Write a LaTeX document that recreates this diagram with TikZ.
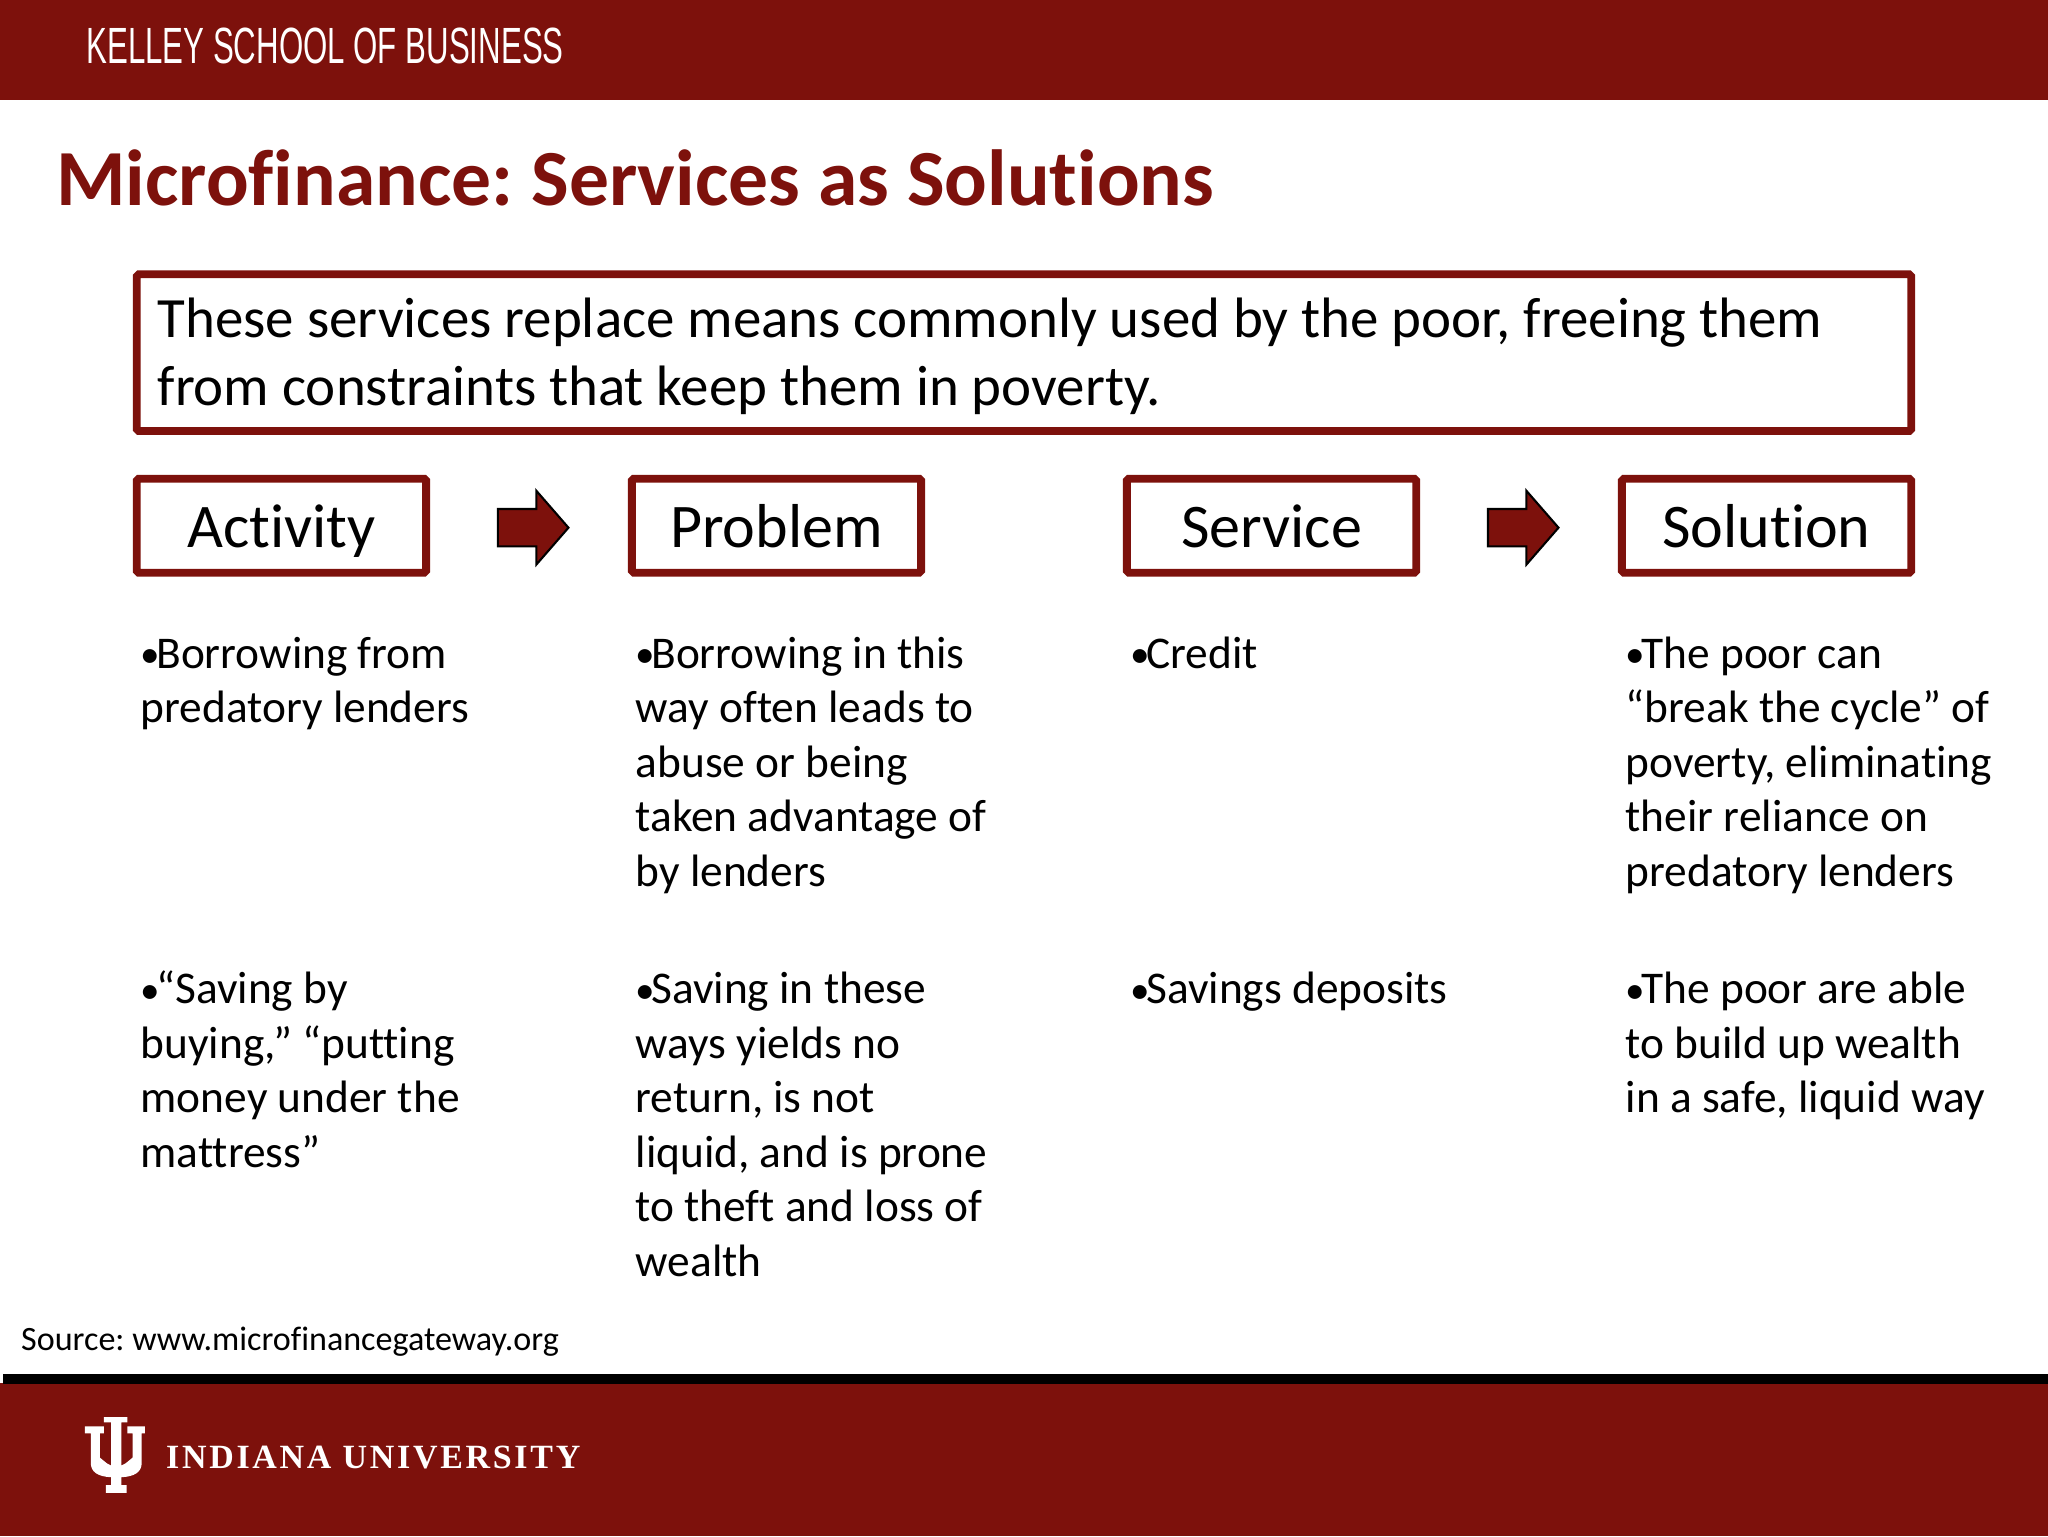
\documentclass[tikz,border=0pt]{standalone}
\usepackage{fontspec}
\setmainfont{Carlito}[Ligatures={NoCommon}]
\newfontfamily\hdrfont{Liberation Sans}
\newfontfamily\iufont[LetterSpace=8]{Liberation Serif}
\usetikzlibrary{shapes.arrows}
\definecolor{crimson}{HTML}{7D110C}
\newcommand{\lead}{\rule{0pt}{30pt}\makebox[12pt][l]{\raisebox{0.6pt}{\fontsize{30}{34}\selectfont •}}}
\frenchspacing
\tikzset{
  x=1pt,y=-1pt,
  bodytext/.style={anchor=north west,inner sep=0pt,align=left,font=\fontsize{34.75}{41.7}\selectfont\frenchspacing,text=black},
  headbox/.style={draw=crimson,line width=6pt,rounded corners=1.5pt,fill=white,minimum width=221.5pt,minimum height=72pt,inner sep=0pt,text height=38pt,text depth=5pt,font=\fontsize{47.5}{52}\selectfont},
  blockarrow/.style={shape=single arrow,draw=black,fill=crimson,line width=1.6pt,inner sep=0pt,minimum height=54pt,single arrow head extend=14pt,single arrow tip angle=98,single arrow head indent=0pt,outer sep=0pt}
}
\begin{document}
\begin{tikzpicture}
\useasboundingbox (0,0) rectangle (1568,1176);
\fill[white] (0,0) rectangle (1568,1176);
\fill[crimson] (0,0) rectangle (1568,76.5);
\fill[crimson] (0,1059) rectangle (1568,1176);
\fill[black] (2,1052) rectangle (1568,1059.5);
\node[anchor=base west,inner sep=0pt,text=white] (school) at (66,48.5) {\scalebox{0.613}[1]{\hdrfont\fontsize{39}{44}\selectfont KELLEY SCHOOL OF BUSINESS}};
\node[anchor=base west,inner sep=0pt,text=crimson,font=\fontsize{60.9}{64}\selectfont\bfseries\frenchspacing] (title) at (43,157) {Microfinance: Services as Solutions};
\node[draw=crimson,line width=6pt,rounded corners=1.5pt,minimum width=1358.5pt,minimum height=120pt,inner sep=0pt] (intro) at (784,270) {};
\node[bodytext,font=\fontsize{43.6}{52}\selectfont\frenchspacing] (introtext) at (120.5,227) {\rule{0pt}{31pt}These services replace means commonly used by the poor, freeing them\\from constraints that keep them in poverty.};
\node[headbox] (activity) at (215.5,402.5) {Activity};
\node[headbox] (problem) at (594.5,402.5) {Problem};
\node[headbox] (service) at (973.5,402.5) {Service};
\node[headbox] (solution) at (1352.5,402.5) {Solution};
\node[blockarrow] (arrowa) at (402,404) {\rule{0pt}{27pt}};
\node[blockarrow] (arrowb) at (1160,404) {\rule{0pt}{27pt}};
\node[bodytext] (a1) at (107.5,481.4) {\lead Borrowing from\\predatory lenders};
\node[bodytext] (p1) at (486.5,481.4) {\lead Borrowing in this\\way often leads to\\abuse or being\\taken advantage of\\by lenders};
\node[bodytext] (s1) at (865.5,481.4) {\lead Credit};
\node[bodytext] (v1) at (1244.5,481.4) {\lead The poor can\\“break the cycle” of\\poverty, eliminating\\their reliance on\\predatory lenders};
\node[bodytext] (a2) at (107.5,738.4) {\lead “Saving by\\buying,” “putting\\money under the\\mattress”};
\node[bodytext] (p2) at (486.5,738.4) {\lead Saving in these\\ways yields no\\return, is not\\liquid, and is prone\\to theft and loss of\\wealth};
\node[bodytext] (s2) at (865.5,738.4) {\lead Savings deposits};
\node[bodytext] (v2) at (1244.5,738.4) {\lead The poor are able\\to build up wealth\\in a safe, liquid way};
\node[anchor=base west,inner sep=0pt,font=\fontsize{26.1}{30}\selectfont\frenchspacing] (source) at (16,1034) {Source: www.microfinancegateway.org};
\fill[white] (79.5,1085) -- (97.5,1085) -- (97.5,1089) -- (93,1089) -- (93,1122) -- (96,1120.5) -- (101.5,1116) -- (101.5,1097.5) -- (97.5,1097.5) -- (97.5,1092) -- (111,1092) -- (111,1097.5) -- (108.5,1097.5) -- (108.5,1120) .. controls (108.5,1127) and (103,1130.5) .. (93,1131) -- (93,1137) -- (97,1137) -- (97,1143) -- (81,1143) -- (81,1137) -- (85,1137) -- (85,1131) .. controls (75,1130.5) and (69.5,1127) .. (69.5,1120) -- (69.5,1097.5) -- (65,1097.5) -- (65,1092) -- (79.5,1092) -- (79.5,1097.5) -- (76.5,1097.5) -- (76.5,1116) -- (82,1120.5) -- (85,1122) -- (85,1089) -- (79.5,1089) -- cycle;
\node[anchor=base west,inner sep=0pt,text=white,font=\iufont\bfseries\fontsize{26}{30}\selectfont] (iu) at (127,1124) {INDIANA UNIVERSITY};
\end{tikzpicture}
\end{document}
